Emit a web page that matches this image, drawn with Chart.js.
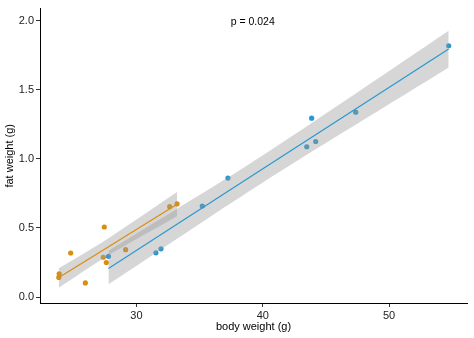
<!DOCTYPE html>
<html>
<head>
<meta charset="utf-8">
<script src="https://cdn.jsdelivr.net/npm/chart.js@4/dist/chart.umd.min.js"></script>
<style>
  html, body { margin: 0; padding: 0; background: #ffffff; }
  #wrap { width: 474px; height: 338px; }
</style>
</head>
<body>
<div id="wrap"><canvas id="c" width="474" height="338"></canvas></div>
<script>
// ---- data ----
const orangeX = [23.88, 23.85, 24.79, 25.95, 27.45, 27.37, 27.61, 29.14, 32.63, 33.21];
const orangeY = [0.168, 0.142, 0.319, 0.102, 0.507, 0.288, 0.250, 0.343, 0.654, 0.674];
const blueX = [27.78, 31.54, 31.94, 35.21, 37.24, 43.48, 44.19, 43.87, 47.36, 54.72];
const blueY = [0.295, 0.320, 0.349, 0.659, 0.861, 1.088, 1.126, 1.295, 1.338, 1.819];

// fitted lines and confidence bands
const orangeFitX = [23.85, 27.6, 33.21];
const orangeFitY = [0.142, 0.353, 0.672];
const orangeUpper = [0.208, 0.415, 0.760];
const orangeLower = [0.068, 0.292, 0.585];
const blueFitX = [27.78, 39.7, 54.72];
const blueFitY = [0.207, 0.910, 1.795];
const blueUpper = [0.335, 1.008, 1.928];
const blueLower = [0.092, 0.812, 1.662];

const xTicks = [30, 40, 50];
const yTicks = [0.0, 0.5, 1.0, 1.5, 2.0];
const xTitle = 'body weight (g)';
const yTitle = 'fat weight (g)';
const pText = 'p = 0.024';
const pPos = [39.2, 1.99];

// ---- styling ----
const ORANGE = '#DB8E0E';
const BLUE = '#2A98D0';
const BAND = 'rgba(153,153,153,0.4)';
const toPts = (xs, ys) => xs.map((x, i) => ({ x: x, y: ys[i] }));

const pLabel = {
  id: 'pLabel',
  afterDatasetsDraw(chart) {
    const { ctx, scales } = chart;
    const px = scales.x.getPixelForValue(pPos[0]);
    const py = scales.y.getPixelForValue(pPos[1]);
    ctx.save();
    ctx.font = '10.5px "Liberation Sans", Arial, sans-serif';
    ctx.fillStyle = '#000';
    ctx.textAlign = 'center';
    ctx.textBaseline = 'middle';
    ctx.fillText(pText, px, py);
    ctx.restore();
  }
};

new Chart(document.getElementById('c'), {
  type: 'line',
  data: {
    datasets: [
      { label: 'orange pts', data: toPts(orangeX, orangeY), showLine: false, pointRadius: 2.6,
        pointBackgroundColor: ORANGE, pointBorderWidth: 0, borderColor: ORANGE, order: 3 },
      { label: 'blue pts', data: toPts(blueX, blueY), showLine: false, pointRadius: 2.6,
        pointBackgroundColor: BLUE, pointBorderWidth: 0, borderColor: BLUE, order: 3 },
      { label: 'orange upper', data: toPts(orangeFitX, orangeUpper), borderWidth: 0, pointRadius: 0,
        fill: '+1', backgroundColor: BAND, borderColor: 'rgba(0,0,0,0)', tension: 0.3, order: 2 },
      { label: 'orange lower', data: toPts(orangeFitX, orangeLower), borderWidth: 0, pointRadius: 0,
        fill: false, borderColor: 'rgba(0,0,0,0)', tension: 0.3, order: 2 },
      { label: 'blue upper', data: toPts(blueFitX, blueUpper), borderWidth: 0, pointRadius: 0,
        fill: '+1', backgroundColor: BAND, borderColor: 'rgba(0,0,0,0)', tension: 0.3, order: 2 },
      { label: 'blue lower', data: toPts(blueFitX, blueLower), borderWidth: 0, pointRadius: 0,
        fill: false, borderColor: 'rgba(0,0,0,0)', tension: 0.3, order: 2 },
      { label: 'orange fit', data: toPts(orangeFitX, orangeFitY), borderWidth: 1.2, pointRadius: 0,
        borderColor: ORANGE, fill: false, order: 1 },
      { label: 'blue fit', data: toPts(blueFitX, blueFitY), borderWidth: 1.2, pointRadius: 0,
        borderColor: BLUE, fill: false, order: 1 }
    ]
  },
  options: {
    responsive: false,
    animation: false,
    layout: { padding: { left: 0, right: 7, top: 5, bottom: 0 } },
    plugins: { legend: { display: false }, tooltip: { enabled: false } },
    scales: {
      x: {
        type: 'linear', min: 22.36, max: 56.17,
        afterBuildTicks: s => { s.ticks = xTicks.map(v => ({ value: v })); },
        afterFit: s => { s.height = 35; },
        ticks: { color: '#222', padding: 2, maxRotation: 0, autoSkip: false,
                 font: { size: 11, family: '"Liberation Sans", Arial, sans-serif' },
                 callback: v => String(v) },
        grid: { drawOnChartArea: false, tickLength: 4, tickColor: '#333', tickWidth: 1 },
        border: { display: true, color: '#000', width: 1 },
        title: { display: true, text: xTitle, color: '#000', padding: { top: 0, bottom: 4.5 },
                 font: { size: 11, family: '"Liberation Sans", Arial, sans-serif' } }
      },
      y: {
        type: 'linear', min: -0.043, max: 2.088,
        afterBuildTicks: s => { s.ticks = yTicks.map(v => ({ value: v })); },
        afterFit: s => { s.width = 40; },
        ticks: { color: '#222', padding: 2, autoSkip: false,
                 font: { size: 11, family: '"Liberation Sans", Arial, sans-serif' },
                 callback: v => Number(v).toFixed(1) },
        grid: { drawOnChartArea: false, tickLength: 4, tickColor: '#333', tickWidth: 1 },
        border: { display: true, color: '#000', width: 1 },
        title: { display: true, text: yTitle, color: '#000', padding: { top: 3.5, bottom: 0 },
                 font: { size: 11, family: '"Liberation Sans", Arial, sans-serif' } }
      }
    }
  },
  plugins: [pLabel]
});
</script>
</body>
</html>
